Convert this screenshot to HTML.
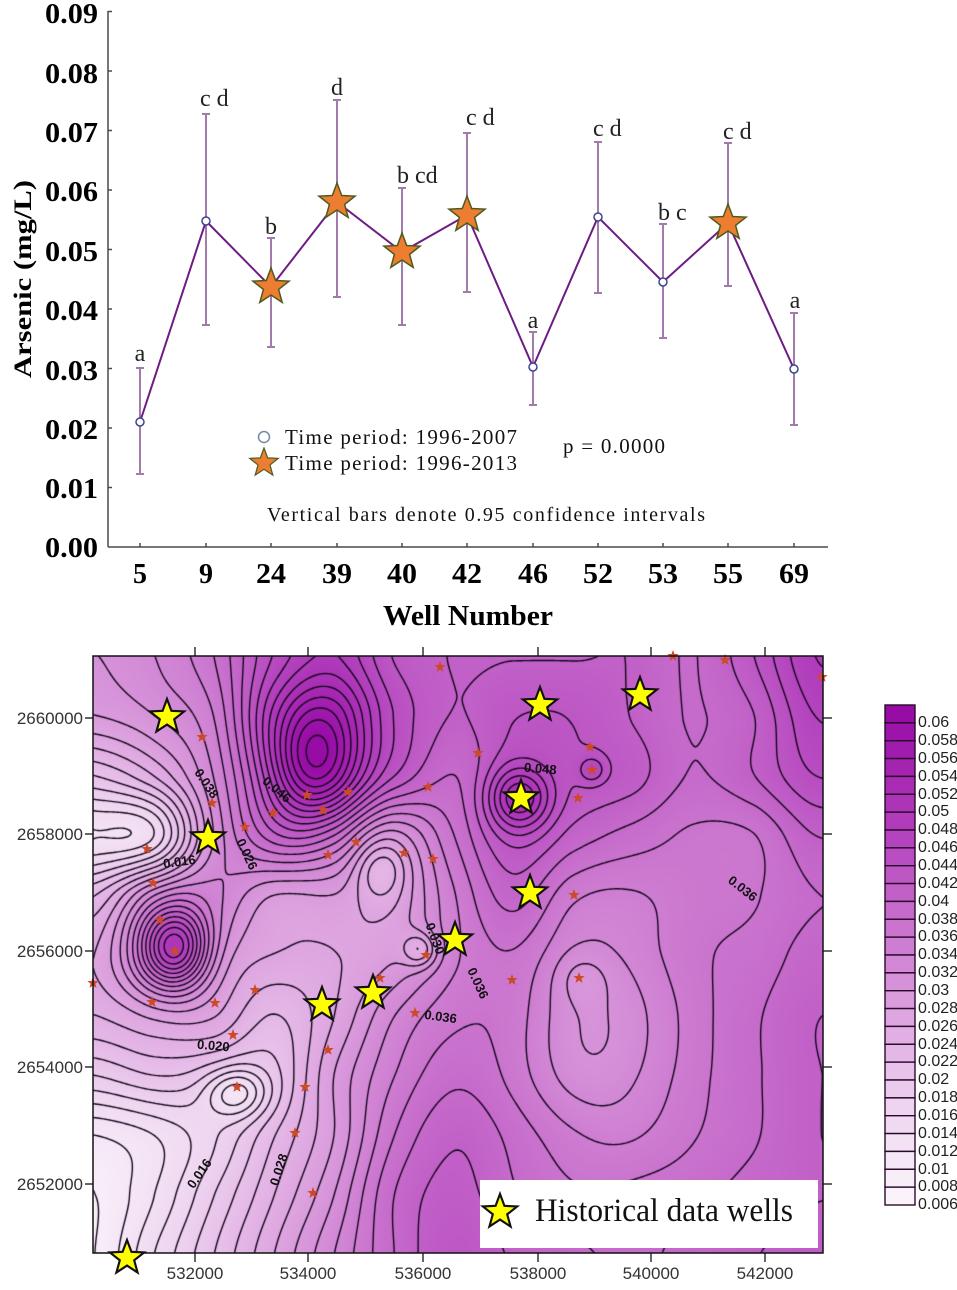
<!DOCTYPE html>
<html><head><meta charset="utf-8">
<style>
html,body{margin:0;padding:0;background:#fff;}
#wrap{position:relative;width:957px;height:1290px;overflow:hidden;background:#fff;}
svg,canvas{position:absolute;left:0;top:0;}
#cv{left:93px;top:656px;}
</style></head>
<body><div id="wrap">
<svg id="bg" width="957" height="1290" viewBox="0 0 957 1290" xmlns="http://www.w3.org/2000/svg">
<defs>
<polygon id="st" points="0,-1 0.2469,-0.3398 0.9511,-0.309 0.3995,0.1298 0.5878,0.809 0,0.42 -0.5878,0.809 -0.3995,0.1298 -0.9511,-0.309 -0.2469,-0.3398"/>
<radialGradient id="gl" cx="0.5" cy="0.5" r="0.5"><stop offset="0" stop-color="#f3e3f3"/><stop offset="1" stop-color="#f3e3f3" stop-opacity="0"/></radialGradient>
<radialGradient id="gd" cx="0.5" cy="0.5" r="0.5"><stop offset="0" stop-color="#a424b0"/><stop offset="1" stop-color="#a424b0" stop-opacity="0"/></radialGradient>
<clipPath id="mclip"><rect x="93" y="656" width="730" height="597"/></clipPath>
</defs>
<!-- ===== top chart ===== -->
<g stroke="#4a4a4a" stroke-width="1.5" fill="none">
<line x1="108" y1="11" x2="108" y2="547"/>
<line x1="108" y1="547" x2="828" y2="547"/>
<line x1="108" y1="11.5" x2="112" y2="11.5"/><line x1="108" y1="71" x2="112" y2="71"/><line x1="108" y1="130.5" x2="112" y2="130.5"/><line x1="108" y1="190" x2="112" y2="190"/><line x1="108" y1="249.5" x2="112" y2="249.5"/><line x1="108" y1="309" x2="112" y2="309"/><line x1="108" y1="368.5" x2="112" y2="368.5"/><line x1="108" y1="428" x2="112" y2="428"/><line x1="108" y1="487.5" x2="112" y2="487.5"/>
<line x1="140" y1="543" x2="140" y2="547"/><line x1="206" y1="543" x2="206" y2="547"/><line x1="271" y1="543" x2="271" y2="547"/><line x1="337" y1="543" x2="337" y2="547"/><line x1="402" y1="543" x2="402" y2="547"/><line x1="467" y1="543" x2="467" y2="547"/><line x1="533" y1="543" x2="533" y2="547"/><line x1="598" y1="543" x2="598" y2="547"/><line x1="663" y1="543" x2="663" y2="547"/><line x1="728" y1="543" x2="728" y2="547"/><line x1="794" y1="543" x2="794" y2="547"/>
</g>
<g font-family="Liberation Serif, serif" font-weight="bold" font-size="28" fill="#000" text-anchor="end">
<text x="98" y="23" textLength="53" lengthAdjust="spacingAndGlyphs">0.09</text>
<text x="98" y="83" textLength="53" lengthAdjust="spacingAndGlyphs">0.08</text>
<text x="98" y="142" textLength="53" lengthAdjust="spacingAndGlyphs">0.07</text>
<text x="98" y="201" textLength="53" lengthAdjust="spacingAndGlyphs">0.06</text>
<text x="98" y="261" textLength="53" lengthAdjust="spacingAndGlyphs">0.05</text>
<text x="98" y="320" textLength="53" lengthAdjust="spacingAndGlyphs">0.04</text>
<text x="98" y="380" textLength="53" lengthAdjust="spacingAndGlyphs">0.03</text>
<text x="98" y="439" textLength="53" lengthAdjust="spacingAndGlyphs">0.02</text>
<text x="98" y="498" textLength="53" lengthAdjust="spacingAndGlyphs">0.01</text>
<text x="98" y="557" textLength="53" lengthAdjust="spacingAndGlyphs">0.00</text>
</g>
<g font-family="Liberation Serif, serif" font-weight="bold" font-size="28" fill="#000" text-anchor="middle">
<text x="140" y="583">5</text>
<text x="206" y="583">9</text>
<text x="271" y="583" textLength="30" lengthAdjust="spacingAndGlyphs">24</text>
<text x="337" y="583" textLength="30" lengthAdjust="spacingAndGlyphs">39</text>
<text x="402" y="583" textLength="30" lengthAdjust="spacingAndGlyphs">40</text>
<text x="467" y="583" textLength="30" lengthAdjust="spacingAndGlyphs">42</text>
<text x="533" y="583" textLength="30" lengthAdjust="spacingAndGlyphs">46</text>
<text x="598" y="583" textLength="30" lengthAdjust="spacingAndGlyphs">52</text>
<text x="663" y="583" textLength="30" lengthAdjust="spacingAndGlyphs">53</text>
<text x="728" y="583" textLength="30" lengthAdjust="spacingAndGlyphs">55</text>
<text x="794" y="583" textLength="30" lengthAdjust="spacingAndGlyphs">69</text>
<text x="468" y="625" font-size="29" textLength="170" lengthAdjust="spacingAndGlyphs">Well Number</text>
<text transform="translate(31,279) rotate(-90)" font-size="25" textLength="198" lengthAdjust="spacingAndGlyphs">Arsenic (mg/L)</text>
</g>
<!-- error bars -->
<g stroke="#a27aab" stroke-width="2" fill="none">
<path d="M140 368V474M136 368h8M136 474h8"/>
<path d="M206 114V325M202 114h8M202 325h8"/>
<path d="M271 238V347M267 238h8M267 347h8"/>
<path d="M337 100V297M333 100h8M333 297h8"/>
<path d="M402 188V325M398 188h8M398 325h8"/>
<path d="M467 133V292M463 133h8M463 292h8"/>
<path d="M533 332V405M529 332h8M529 405h8"/>
<path d="M598 142V293M594 142h8M594 293h8"/>
<path d="M663 224V338M659 224h8M659 338h8"/>
<path d="M728 143V286M724 143h8M724 286h8"/>
<path d="M794 313V425M790 313h8M790 425h8"/>
</g>
<polyline points="140,422 206,221 271,287 337,202 402,252 467,215 533,367 598,217 663,282 728,223 794,369" fill="none" stroke="#6c1c82" stroke-width="2"/>
<g fill="#fff" stroke="#3c4490" stroke-width="1.5">
<circle cx="140" cy="422" r="4"/><circle cx="206" cy="221" r="4"/><circle cx="533" cy="367" r="4"/><circle cx="598" cy="217" r="4"/><circle cx="663" cy="282" r="4"/><circle cx="794" cy="369" r="4"/>
</g>
<g fill="#ed7d31" stroke="#4e5b1f" stroke-width="0.08">
<use href="#st" transform="translate(271,287) scale(19)"/>
<use href="#st" transform="translate(337,202) scale(19)"/>
<use href="#st" transform="translate(402,252) scale(19)"/>
<use href="#st" transform="translate(467,215) scale(19)"/>
<use href="#st" transform="translate(728,223) scale(19)"/>
<use href="#st" transform="translate(264,463) scale(15)"/>
</g>
<circle cx="264" cy="437" r="5.5" fill="#fff" stroke="#7888a8" stroke-width="1.5"/>
<g font-family="Liberation Serif, serif" font-size="24" fill="#222">
<text x="140" y="361" text-anchor="middle">a</text>
<text x="200" y="106">c d</text>
<text x="271" y="234" text-anchor="middle">b</text>
<text x="337" y="95" text-anchor="middle">d</text>
<text x="397" y="183">b cd</text>
<text x="466" y="125">c d</text>
<text x="533" y="328" text-anchor="middle">a</text>
<text x="593" y="136">c d</text>
<text x="658" y="220">b c</text>
<text x="723" y="139">c d</text>
<text x="795" y="308" text-anchor="middle">a</text>
</g>
<g font-family="Liberation Serif, serif" font-size="21" fill="#111">
<text x="285" y="444" textLength="232">Time period: 1996-2007</text>
<text x="285" y="470" textLength="232">Time period: 1996-2013</text>
<text x="563" y="453" textLength="102">p = 0.0000</text>
<text x="267" y="521" font-size="20" textLength="438">Vertical bars denote 0.95 confidence intervals</text>
</g>
<!-- ===== map fallback background ===== -->
<g clip-path="url(#mclip)">
<rect x="93" y="656" width="730" height="597" fill="#c677cb"/>
<ellipse cx="150" cy="1170" rx="150" ry="140" fill="url(#gl)"/>
<ellipse cx="120" cy="830" rx="80" ry="60" fill="url(#gl)"/>
<ellipse cx="330" cy="930" rx="110" ry="90" fill="url(#gl)" opacity="0.7"/>
<ellipse cx="310" cy="750" rx="70" ry="90" fill="url(#gd)"/>
<ellipse cx="176" cy="948" rx="35" ry="40" fill="url(#gd)"/>
</g>
<!-- map axes ticks & labels -->
<g stroke="#333" stroke-width="1.5">
<path d="M85 718H93M85 834H93M85 951H93M85 1067H93M85 1184H93"/>
<path d="M823 718H832M823 834H832M823 951H832M823 1067H832M823 1184H832"/>
<path d="M195 647V656M308 647V656M423 647V656M538 647V656M651 647V656M765 647V656"/>
<path d="M195 1253V1262M308 1253V1262M423 1253V1262M538 1253V1262M651 1253V1262M765 1253V1262"/>
</g>
<g font-family="Liberation Sans, sans-serif" font-size="17" fill="#333">
<g text-anchor="end">
<text x="83" y="724">2660000</text>
<text x="83" y="840">2658000</text>
<text x="83" y="957">2656000</text>
<text x="83" y="1073">2654000</text>
<text x="83" y="1190">2652000</text>
</g>
<g text-anchor="middle">
<text x="195" y="1279">532000</text>
<text x="308" y="1279">534000</text>
<text x="423" y="1279">536000</text>
<text x="538" y="1279">538000</text>
<text x="651" y="1279">540000</text>
<text x="765" y="1279">542000</text>
</g>
</g>
<!-- colorbar -->
<g id="cbar"></g>
<g font-family="Liberation Sans, sans-serif" font-size="16" fill="#222">
<text x="918" y="727">0.06</text><text x="918" y="745">0.058</text><text x="918" y="763">0.056</text><text x="918" y="781">0.054</text><text x="918" y="799">0.052</text><text x="918" y="816">0.05</text><text x="918" y="834">0.048</text><text x="918" y="852">0.046</text><text x="918" y="870">0.044</text><text x="918" y="888">0.042</text><text x="918" y="906">0.04</text><text x="918" y="924">0.038</text><text x="918" y="941">0.036</text><text x="918" y="959">0.034</text><text x="918" y="977">0.032</text><text x="918" y="995">0.03</text><text x="918" y="1013">0.028</text><text x="918" y="1031">0.026</text><text x="918" y="1049">0.024</text><text x="918" y="1066">0.022</text><text x="918" y="1084">0.02</text><text x="918" y="1102">0.018</text><text x="918" y="1120">0.016</text><text x="918" y="1138">0.014</text><text x="918" y="1156">0.012</text><text x="918" y="1174">0.01</text><text x="918" y="1191">0.008</text><text x="918" y="1209">0.006</text>
</g>
</svg>
<canvas id="cv" width="730" height="597"></canvas>
<svg id="fg" width="957" height="1290" viewBox="0 0 957 1290" xmlns="http://www.w3.org/2000/svg">
<defs>
<polygon id="st2" points="0,-1 0.2469,-0.3398 0.9511,-0.309 0.3995,0.1298 0.5878,0.809 0,0.42 -0.5878,0.809 -0.3995,0.1298 -0.9511,-0.309 -0.2469,-0.3398"/>
</defs>
<g font-family="Liberation Sans, sans-serif" font-weight="bold" font-size="13" fill="#111" text-anchor="middle">
<text transform="translate(203,786) rotate(56)">0.038</text>
<text transform="translate(274,793) rotate(40)">0.046</text>
<text transform="translate(243,856) rotate(65)">0.026</text>
<text transform="translate(180,866) rotate(-8)">0.016</text>
<text transform="translate(540,773) rotate(5)">0.048</text>
<text transform="translate(740,892) rotate(38)">0.036</text>
<text transform="translate(431,940) rotate(70)">0.030</text>
<text transform="translate(474,985) rotate(65)">0.036</text>
<text transform="translate(440,1021) rotate(8)">0.036</text>
<text transform="translate(213,1050) rotate(5)">0.020</text>
<text transform="translate(203,1176) rotate(-55)">0.016</text>
<text transform="translate(283,1171) rotate(-72)">0.028</text>
</g>
<g fill="#cc4a28">
<use href="#st2" transform="translate(440,667) scale(6)"/><use href="#st2" transform="translate(673,656) scale(6)"/><use href="#st2" transform="translate(725,660) scale(6)"/><use href="#st2" transform="translate(822,677) scale(6)"/><use href="#st2" transform="translate(202,737) scale(6)"/><use href="#st2" transform="translate(212,803) scale(6)"/><use href="#st2" transform="translate(245,827) scale(6)"/><use href="#st2" transform="translate(273,813) scale(6)"/><use href="#st2" transform="translate(307,795) scale(6)"/><use href="#st2" transform="translate(323,810) scale(6)"/><use href="#st2" transform="translate(348,792) scale(6)"/><use href="#st2" transform="translate(428,787) scale(6)"/><use href="#st2" transform="translate(478,753) scale(6)"/><use href="#st2" transform="translate(590,747) scale(6)"/><use href="#st2" transform="translate(592,770) scale(6)"/><use href="#st2" transform="translate(578,798) scale(6)"/><use href="#st2" transform="translate(147,849) scale(6)"/><use href="#st2" transform="translate(153,883) scale(6)"/><use href="#st2" transform="translate(160,920) scale(6)"/><use href="#st2" transform="translate(175,951) scale(6)"/><use href="#st2" transform="translate(93,983) scale(6)"/><use href="#st2" transform="translate(152,1002) scale(6)"/><use href="#st2" transform="translate(215,1003) scale(6)"/><use href="#st2" transform="translate(255,990) scale(6)"/><use href="#st2" transform="translate(233,1035) scale(6)"/><use href="#st2" transform="translate(237,1087) scale(6)"/><use href="#st2" transform="translate(328,1050) scale(6)"/><use href="#st2" transform="translate(305,1087) scale(6)"/><use href="#st2" transform="translate(295,1133) scale(6)"/><use href="#st2" transform="translate(313,1193) scale(6)"/><use href="#st2" transform="translate(415,1013) scale(6)"/><use href="#st2" transform="translate(380,978) scale(6)"/><use href="#st2" transform="translate(426,955) scale(6)"/><use href="#st2" transform="translate(328,855) scale(6)"/><use href="#st2" transform="translate(356,842) scale(6)"/><use href="#st2" transform="translate(404,853) scale(6)"/><use href="#st2" transform="translate(433,859) scale(6)"/><use href="#st2" transform="translate(574,895) scale(6)"/><use href="#st2" transform="translate(512,980) scale(6)"/><use href="#st2" transform="translate(579,978) scale(6)"/>
</g>
<rect x="93" y="656" width="730" height="597" fill="none" stroke="#111" stroke-width="1.5"/>
<rect x="480" y="1180" width="338" height="68" fill="#fff"/>
<text x="535" y="1221" font-family="Liberation Serif, serif" font-size="33" fill="#111" textLength="258" lengthAdjust="spacingAndGlyphs">Historical  data wells</text>
<g fill="#ffff00" stroke="#111" stroke-width="0.12">
<use href="#st2" transform="translate(167,717) scale(18)"/><use href="#st2" transform="translate(208,838) scale(18)"/><use href="#st2" transform="translate(540,705) scale(18)"/><use href="#st2" transform="translate(640,695) scale(18)"/><use href="#st2" transform="translate(521,798) scale(18)"/><use href="#st2" transform="translate(530,893) scale(18)"/><use href="#st2" transform="translate(455,940) scale(18)"/><use href="#st2" transform="translate(322,1005) scale(18)"/><use href="#st2" transform="translate(373,993) scale(18)"/><use href="#st2" transform="translate(127,1258) scale(18)"/><use href="#st2" transform="translate(500,1212) scale(18)"/>
</g>
</svg>
</div>
<script>
(function(){
var STOPS=[[0.006,[250,244,250]],[0.016,[238,212,240]],[0.026,[222,166,224]],[0.036,[202,116,206]],[0.046,[180,68,190]],[0.06,[152,12,166]]];
function cmap(v){
  if(v<=STOPS[0][0])return STOPS[0][1];
  for(var i=1;i<STOPS.length;i++){
    if(v<=STOPS[i][0]){var a=STOPS[i-1],b=STOPS[i];var t=(v-a[0])/(b[0]-a[0]);
      return [a[1][0]+(b[1][0]-a[1][0])*t,a[1][1]+(b[1][1]-a[1][1])*t,a[1][2]+(b[1][2]-a[1][2])*t];}
  }
  return STOPS[STOPS.length-1][1];
}
var ns="http://www.w3.org/2000/svg",cb=document.getElementById('cbar');
var bh=500/28;
for(var k=0;k<28;k++){
  var v=0.06-0.002*k,c=cmap(v),r=document.createElementNS(ns,'rect');
  r.setAttribute('x',885);r.setAttribute('y',705+k*bh);r.setAttribute('width',30);r.setAttribute('height',bh);
  r.setAttribute('fill','rgb('+Math.round(c[0])+','+Math.round(c[1])+','+Math.round(c[2])+')');
  r.setAttribute('stroke','#2a0a2a');r.setAttribute('stroke-width','1.4');cb.appendChild(r);
}
var cv=document.getElementById('cv');if(!cv.getContext)return;
var ctx=cv.getContext('2d');var W=730,H=597,X0=93,Y0=656;
var G=[
[0.030,0.032,0.036,0.044,0.048,0.042,0.040,0.040,0.040,0.040,0.038,0.042,0.048],
[0.028,0.030,0.034,0.046,0.052,0.044,0.040,0.042,0.042,0.040,0.038,0.040,0.046],
[0.020,0.024,0.032,0.042,0.048,0.042,0.038,0.042,0.042,0.041,0.038,0.040,0.044],
[0.012,0.014,0.030,0.038,0.036,0.030,0.036,0.042,0.040,0.038,0.036,0.036,0.040],
[0.022,0.030,0.032,0.028,0.028,0.027,0.034,0.040,0.037,0.036,0.036,0.036,0.038],
[0.026,0.032,0.028,0.026,0.026,0.028,0.034,0.038,0.037,0.037,0.037,0.037,0.039],
[0.024,0.026,0.026,0.022,0.026,0.032,0.036,0.038,0.037,0.037,0.037,0.038,0.040],
[0.018,0.020,0.020,0.020,0.028,0.034,0.038,0.038,0.037,0.037,0.037,0.038,0.040],
[0.010,0.012,0.016,0.022,0.028,0.036,0.040,0.039,0.038,0.037,0.037,0.038,0.040],
[0.008,0.012,0.018,0.024,0.030,0.038,0.041,0.039,0.038,0.038,0.038,0.039,0.040],
[0.008,0.014,0.020,0.026,0.032,0.038,0.042,0.040,0.039,0.038,0.039,0.040,0.041]];
function g(i,j){if(i<0)i=0;if(i>12)i=12;if(j<0)j=0;if(j>10)j=10;return G[j][i];}
function cr(p0,p1,p2,p3,t){return p1+0.5*t*(p2-p0+t*(2*p0-5*p1+4*p2-p3+t*(3*(p1-p2)+p3-p0)));}
function base(x,y){var fx=(x-93)/60,fy=(y-656)/60,ix=Math.floor(fx),iy=Math.floor(fy),tx=fx-ix,ty=fy-iy,r=[];
  for(var k=-1;k<3;k++)r.push(cr(g(ix-1,iy+k),g(ix,iy+k),g(ix+1,iy+k),g(ix+2,iy+k),tx));
  return cr(r[0],r[1],r[2],r[3],ty);}
var B=[[310,765,0.012,30,42],[176,948,0.018,24,28],[519,798,0.010,22,22],[592,770,0.004,10,10],
[236,1093,-0.008,22,18],[380,870,-0.005,18,22],[420,950,-0.006,12,12],
[595,1030,-0.007,62,95],[582,978,-0.002,18,18]];
function f(x,y){var v=base(x,y);for(var k=0;k<B.length;k++){var b=B[k],dx=(x-b[0])/b[3],dy=(y-b[1])/b[4];v+=b[2]*Math.exp(-0.5*(dx*dx+dy*dy));}return v;}
var F=new Float32Array(W*H);
var img=ctx.createImageData(W,H),d=img.data;
for(var y=0;y<H;y++)for(var x=0;x<W;x++){
  var v=f(X0+x+0.5,Y0+y+0.5);F[y*W+x]=v;var c=cmap(v),p=(y*W+x)*4;
  d[p]=c[0];d[p+1]=c[1];d[p+2]=c[2];d[p+3]=255;}
ctx.putImageData(img,0,0);
ctx.strokeStyle='#12051a';ctx.lineWidth=1.4;ctx.lineCap='round';ctx.beginPath();
var S=2;
function val(x,y){if(x>W-1)x=W-1;if(y>H-1)y=H-1;return F[y*W+x];}
for(var k=0;k<28;k++){
  var L=0.006+0.002*k+0.0001;
  for(var y=0;y<H-1;y+=S)for(var x=0;x<W-1;x+=S){
    var a=val(x,y),b=val(x+S,y),c=val(x+S,y+S),e=val(x,y+S);
    var pts=[];
    if((a>L)!=(b>L)){var t=(L-a)/(b-a);pts.push([x+t*S,y]);}
    if((b>L)!=(c>L)){var t=(L-b)/(c-b);pts.push([x+S,y+t*S]);}
    if((e>L)!=(c>L)){var t=(L-e)/(c-e);pts.push([x+t*S,y+S]);}
    if((a>L)!=(e>L)){var t=(L-a)/(e-a);pts.push([x,y+t*S]);}
    if(pts.length==2){ctx.moveTo(pts[0][0]+0.5,pts[0][1]+0.5);ctx.lineTo(pts[1][0]+0.5,pts[1][1]+0.5);}
    else if(pts.length==4){
      ctx.moveTo(pts[0][0]+0.5,pts[0][1]+0.5);ctx.lineTo(pts[3][0]+0.5,pts[3][1]+0.5);
      ctx.moveTo(pts[1][0]+0.5,pts[1][1]+0.5);ctx.lineTo(pts[2][0]+0.5,pts[2][1]+0.5);}
  }
}
ctx.stroke();
})();
</script>
</body></html>
